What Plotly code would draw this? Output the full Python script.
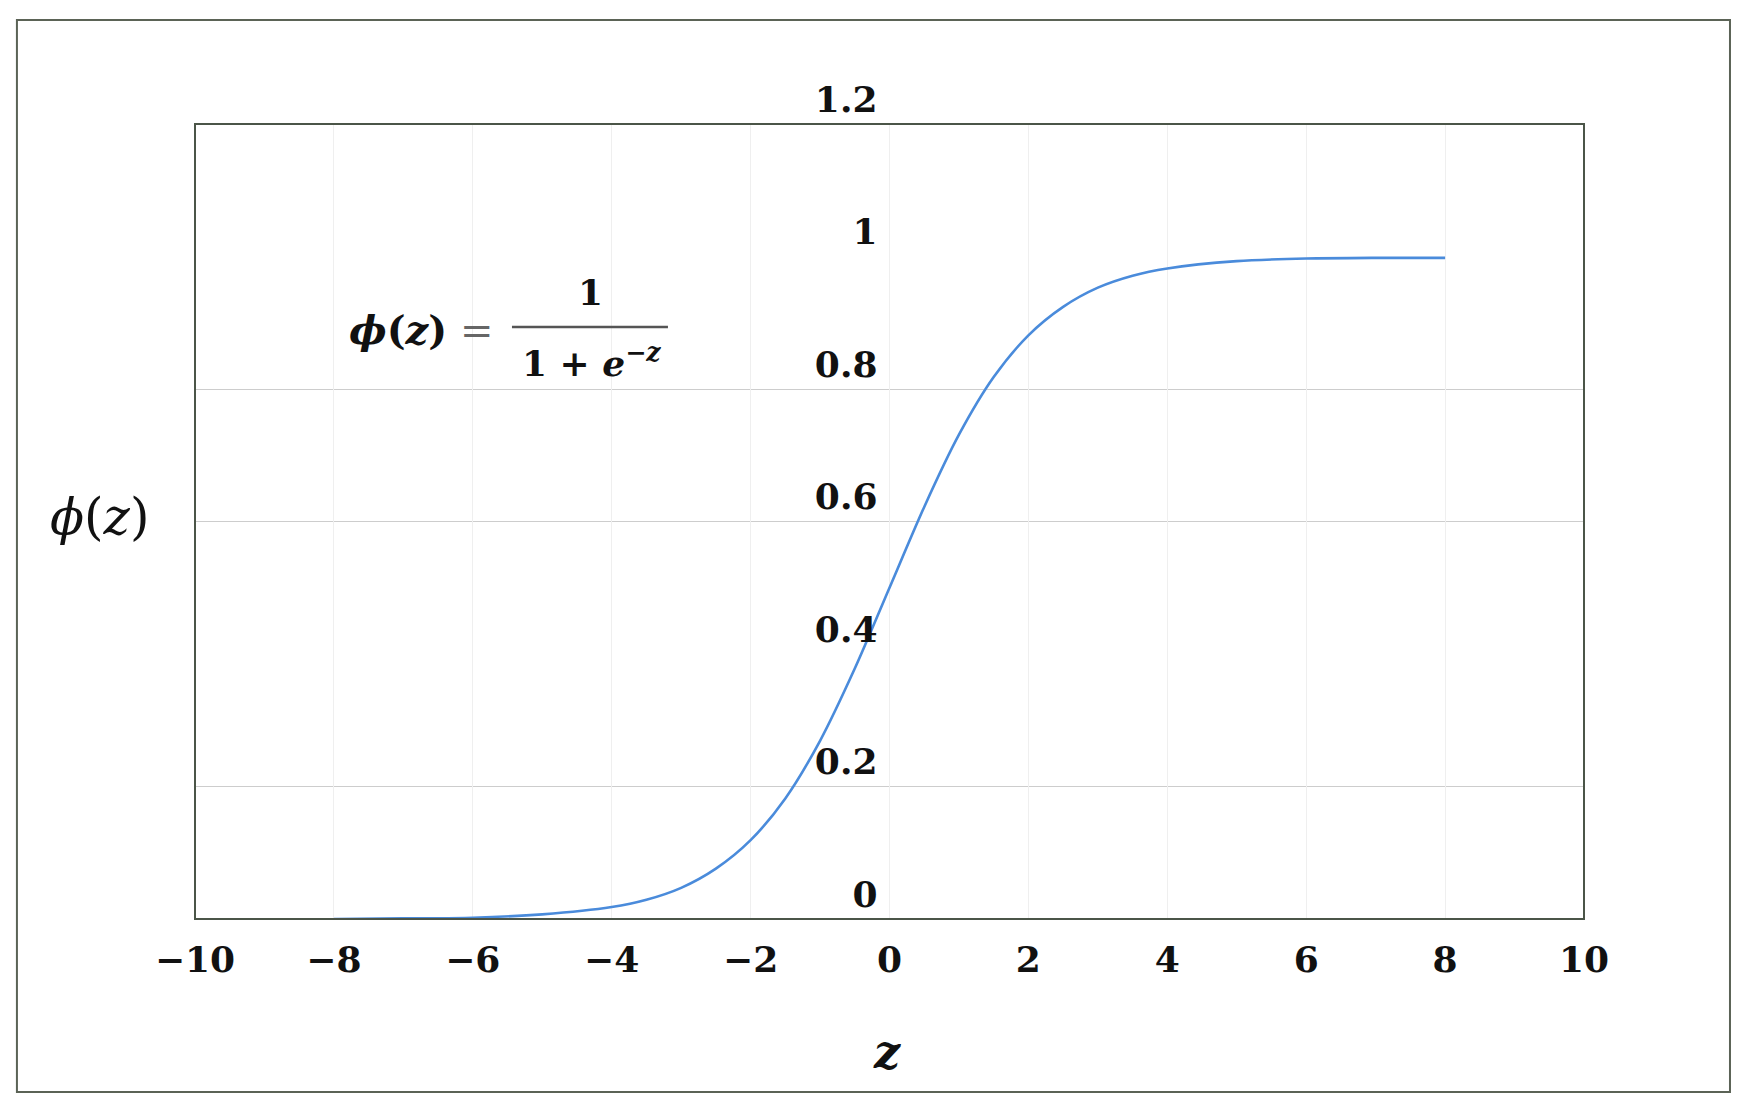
import plotly.graph_objects as go

# ---- data ----
z_vals = [-8, -7, -6, -5, -4, -3.5, -3, -2.5, -2, -1.5, -1, -0.5, 0,
          0.5, 1, 1.5, 2, 2.5, 3, 3.5, 4, 5, 6, 7, 8]
phi_vals = [0.000, 0.001, 0.002, 0.007, 0.018, 0.029, 0.047, 0.076, 0.119,
            0.182, 0.269, 0.378, 0.500, 0.622, 0.731, 0.818, 0.881, 0.924,
            0.953, 0.971, 0.982, 0.993, 0.997, 0.998, 0.998]

x_tickvals = [-10, -8, -6, -4, -2, 0, 2, 4, 6, 8, 10]
x_ticktext = ["\u221210", "\u22128", "\u22126", "\u22124", "\u22122", "0",
              "2", "4", "6", "8", "10"]
y_tickvals = [0, 0.2, 0.4, 0.6, 0.8, 1.0, 1.2]
y_ticktext = ["0", "0.2", "0.4", "0.6", "0.8", "1", "1.2"]
y_gridvals = [0.2, 0.6, 0.8]

FRAME = "#4b5548"
SERIF = "DejaVu Serif"

fig = go.Figure()
fig.add_trace(go.Scatter(
    x=z_vals, y=phi_vals, mode="lines",
    line=dict(color="#4a8bdb", width=2.6, shape="spline", smoothing=0.8),
    showlegend=False, hoverinfo="x+y",
))

fig.update_layout(
    width=1745, height=1110, autosize=False,
    margin=dict(l=195, r=161, t=124, b=191, pad=0),
    paper_bgcolor="white", plot_bgcolor="white",
    xaxis=dict(
        range=[-10, 10], tickmode="array", tickvals=x_tickvals,
        ticktext=x_ticktext, showgrid=True, gridcolor="#efefef",
        gridwidth=1, zeroline=False, showline=False, ticks="",
        ticklabelstandoff=16,
        tickfont=dict(family=SERIF, size=36, color="#111111", weight="bold"),
    ),
    yaxis=dict(
        range=[0, 1.2], tickmode="array", tickvals=y_tickvals,
        ticktext=y_ticktext, anchor="free", position=0.5, side="left",
        showgrid=False, zeroline=False, showline=False, ticks="",
        ticklabelshift=-25, ticklabelstandoff=12,
        minor=dict(tickmode="array", tickvals=y_gridvals, showgrid=True,
                   gridcolor="#cdcdcd", gridwidth=1.2, ticks=""),
        tickfont=dict(family=SERIF, size=36, color="#111111", weight="bold"),
    ),
)

# plot-area frame and outer chart border
fig.add_shape(type="rect", xref="paper", yref="paper", x0=0, y0=0, x1=1, y1=1,
              line=dict(color=FRAME, width=2), layer="above")
fig.add_shape(type="rect", xref="paper", yref="paper",
              x0=-0.1282, y0=-0.2176, x1=1.1051, y1=1.1308,
              line=dict(color="#5b6356", width=2), layer="below")

# axis titles
fig.add_annotation(text="<i>z</i>", xref="paper", yref="paper", x=0.4982,
                   y=-0.1673, showarrow=False, xanchor="center", yanchor="middle",
                   font=dict(family=SERIF, size=46, color="#111111", weight="bold"))
fig.add_annotation(text="<i>\u03d5</i>(<i>z</i>)", xref="paper", yref="paper",
                   x=-0.0684, y=0.5057, showarrow=False, xanchor="center",
                   yanchor="middle",
                   font=dict(family=SERIF, size=50, color="#111111"))

# formula phi(z) = 1 / (1 + e^-z)
fig.add_annotation(text="<b><i>\u03d5</i>(<i>z</i>)</b> <span style='color:#666'>=</span>",
                   xref="paper", yref="paper",
                   x=0.216, y=0.7409, showarrow=False, xanchor="right",
                   yanchor="middle",
                   font=dict(family=SERIF, size=40, color="#111111"))
fig.add_annotation(text="<b>1</b>", xref="paper", yref="paper",
                   x=0.2844, y=0.7887, showarrow=False, xanchor="center",
                   yanchor="middle",
                   font=dict(family=SERIF, size=36, color="#111111"))
fig.add_annotation(text="<b>1 + <i>e</i><sup>\u2212<i>z</i></sup></b>", xref="paper",
                   yref="paper", x=0.2851, y=0.7031, showarrow=False,
                   xanchor="center", yanchor="middle",
                   font=dict(family=SERIF, size=36, color="#111111"))
fig.add_shape(type="line", xref="paper", yref="paper", x0=0.2282, x1=0.3405,
              y0=0.7447, y1=0.7447, line=dict(color="#555555", width=2.5))

fig.write_html("out.html", config={"displayModeBar": False},
               post_script="document.body.style.margin='0px';document.body.style.overflow='hidden';")
